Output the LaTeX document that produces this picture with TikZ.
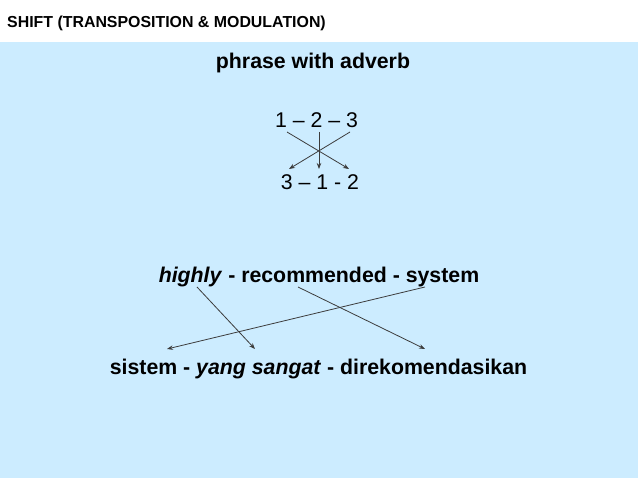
\documentclass[tikz,border=0pt]{standalone}
\usepackage{fontspec}
\setmainfont{Liberation Sans}
\usepackage{tikz}
\usetikzlibrary{arrows.meta}

\definecolor{slideblue}{RGB}{204,236,255}
\definecolor{arrowgray}{RGB}{60,60,60}

\tikzset{
  word/.style={anchor=base,inner sep=0pt,font=\fontsize{21.3}{25}\selectfont},
  wordb/.style={word,font=\fontsize{21.3}{25}\selectfont\bfseries},
  shiftarrow/.style={draw=arrowgray,line width=0.8pt,-{Stealth[length=6pt,width=4.5pt]}}
}

\begin{document}
\begin{tikzpicture}[x=1pt,y=-1pt]
\useasboundingbox (0,0) rectangle (638,478);
\fill[white] (0,0) rectangle (638,42);
\fill[slideblue] (0,42) rectangle (638,478);
\node[anchor=base west,inner sep=0pt,font=\fontsize{15.9}{18}\selectfont\bfseries] (title) at (7,28) {SHIFT (TRANSPOSITION \& MODULATION)};

% word order of a phrase
\node[wordb] (phrase) at (313,69) {phrase with adverb};
\node[word] (src) at (316.5,128) {1 -- 2 -- 3};
\node[word] (tgt) at (320,190) {3 -- 1 - 2};
\coordinate (s1) at (287,132);
\coordinate (s2) at (319,132);
\coordinate (s3) at (350,132);
\coordinate (t1) at (289,169);
\coordinate (t2) at (319,169);
\coordinate (t3) at (349,169);
\draw[shiftarrow] (s1) -- (t3);
\draw[shiftarrow] (s2) -- (t2);
\draw[shiftarrow] (s3) -- (t1);

% example
\node[wordb] (en) at (319,283) {\textit{highly} - recommended - system};
\node[wordb] (id) at (318.5,375) {sistem - \textit{yang sangat} - direkomendasikan};
\coordinate (highly) at (197,287);
\coordinate (recom) at (298,287);
\coordinate (system) at (425,287);
\coordinate (sistem) at (167,349);
\coordinate (sangat) at (255,349);
\coordinate (direk) at (425,349);
\draw[shiftarrow] (highly) -- (sangat);
\draw[shiftarrow] (recom) -- (direk);
\draw[shiftarrow] (system) -- (sistem);
\end{tikzpicture}
\end{document}
